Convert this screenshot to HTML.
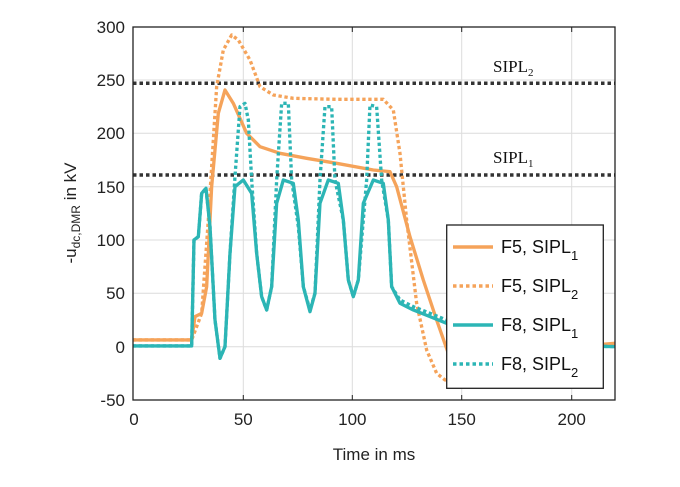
<!DOCTYPE html>
<html><head><meta charset="utf-8"><style>
body{margin:0;background:#fff;}
svg{display:block;font-family:"Liberation Sans",sans-serif;}
</style></head><body>
<svg width="680" height="487" viewBox="0 0 680 487">
<rect width="680" height="487" fill="#fff"/>
<defs><clipPath id="c"><rect x="133" y="27" width="482" height="373"/></clipPath></defs>
<!-- grid -->
<g stroke="#dcdcdc" stroke-width="1">
<line x1="243.3" y1="27" x2="243.3" y2="400"/>
<line x1="352.3" y1="27" x2="352.3" y2="400"/>
<line x1="461.7" y1="27" x2="461.7" y2="400"/>
<line x1="571.7" y1="27" x2="571.7" y2="400"/>
<line x1="133" y1="80" x2="615" y2="80"/>
<line x1="133" y1="133.3" x2="615" y2="133.3"/>
<line x1="133" y1="186.7" x2="615" y2="186.7"/>
<line x1="133" y1="240" x2="615" y2="240"/>
<line x1="133" y1="293.3" x2="615" y2="293.3"/>
<line x1="133" y1="346.7" x2="615" y2="346.7"/>
</g>
<!-- SIPL lines -->
<g stroke="#333" stroke-width="3.5" stroke-dasharray="3.5,3">
<line x1="133" y1="83.3" x2="615" y2="83.3"/>
<line x1="133" y1="175" x2="615" y2="175"/>
</g>
<text x="493" y="72" font-family="Liberation Serif,serif" font-size="17" fill="#111">SIPL<tspan font-size="11" dy="4">2</tspan></text>
<text x="493" y="163" font-family="Liberation Serif,serif" font-size="17" fill="#111">SIPL<tspan font-size="11" dy="4">1</tspan></text>
<g clip-path="url(#c)">
<g fill="none" stroke-linejoin="round" transform="translate(120,20) scale(0.3333)">
<path stroke="#f5a35a" stroke-width="10" stroke-dasharray="10,8" d="M38,960 L215,960 L245,880 L265,600 L290,200 L310,90 L335,45 L355,60 L390,120 L420,200 L460,225 L520,235 L650,238 L790,238 L820,270 L840,400 L860,600 L890,850 L920,990 L950,1060 L975,1080 L1010,1075 L1060,1040 L1200,990 L1485,975"/>
<path stroke="#f5a35a" stroke-width="10" d="M38,960 L215,960 L225,890 L245,880 L260,800 L275,500 L295,280 L315,210 L340,250 L380,340 L420,380 L480,400 L560,415 L650,430 L760,450 L810,455 L830,500 L870,650 L910,780 L950,900 L985,1000 L1020,1050 L1100,1020 L1300,985 L1485,970"/>
<path stroke="#2cb5b5" stroke-width="10" stroke-dasharray="10,8" d="M38,978 L215,978 L222,660 L235,650 L245,520 L258,505 L270,620 L285,900 L300,1015 L315,980 L330,700 L345,470 L360,260 L375,250 L385,300 L395,480 L410,700 L425,830 L440,870 L455,800 L470,480 L485,250 L505,250 L515,480 L535,620 L550,800 L570,870 L585,820 L600,480 L615,260 L635,260 L645,480 L670,600 L685,780 L700,830 L715,780 L740,480 L750,255 L770,260 L785,480 L805,600 L815,800 L840,840 L880,860 L930,880 L980,900 L1100,940 L1300,975 L1485,980"/>
<path stroke="#2cb5b5" stroke-width="10" d="M38,978 L215,978 L222,660 L235,650 L245,520 L258,505 L270,620 L285,900 L300,1015 L315,980 L330,700 L345,500 L370,480 L395,520 L410,700 L425,830 L440,870 L455,800 L470,550 L490,480 L520,490 L535,600 L550,800 L570,875 L585,820 L600,550 L625,480 L655,490 L670,600 L685,780 L700,830 L715,780 L730,550 L760,480 L790,490 L805,600 L815,800 L840,850 L880,870 L930,890 L980,910 L1100,950 L1300,978 L1485,980"/>
</g>
</g>
<!-- axes box -->
<rect x="133" y="27" width="482" height="373" fill="none" stroke="#222" stroke-width="1.3"/>
<g stroke="#222" stroke-width="1">
<line x1="243.3" y1="400" x2="243.3" y2="395"/><line x1="352.3" y1="400" x2="352.3" y2="395"/><line x1="461.7" y1="400" x2="461.7" y2="395"/><line x1="571.7" y1="400" x2="571.7" y2="395"/>
<line x1="243.3" y1="27" x2="243.3" y2="32"/><line x1="352.3" y1="27" x2="352.3" y2="32"/><line x1="461.7" y1="27" x2="461.7" y2="32"/><line x1="571.7" y1="27" x2="571.7" y2="32"/>
</g>
<g font-size="17" fill="#222" text-anchor="end">
<text x="125" y="33">300</text><text x="125" y="86">250</text><text x="125" y="139">200</text><text x="125" y="193">150</text><text x="125" y="246">100</text><text x="125" y="299">50</text><text x="125" y="353">0</text><text x="125" y="406">-50</text>
</g>
<g font-size="17" fill="#222" text-anchor="middle">
<text x="134" y="425">0</text><text x="243.3" y="425">50</text><text x="352.3" y="425">100</text><text x="461.7" y="425">150</text><text x="571.7" y="425">200</text>
<text x="374" y="460">Time in ms</text>
</g>
<text transform="translate(76,213) rotate(-90)" font-size="17" fill="#222" text-anchor="middle">-u<tspan font-size="12" dy="4">dc,DMR</tspan><tspan dy="-4"> in kV</tspan></text>
<!-- legend -->
<rect x="446.7" y="225" width="156.6" height="163.3" fill="#fff" stroke="#222" stroke-width="1.3"/>
<g stroke-width="3.5">
<line x1="453" y1="247" x2="493" y2="247" stroke="#f5a35a"/>
<line x1="453" y1="286" x2="493" y2="286" stroke="#f5a35a" stroke-dasharray="3.5,3"/>
<line x1="453" y1="325" x2="493" y2="325" stroke="#2cb5b5"/>
<line x1="453" y1="364" x2="493" y2="364" stroke="#2cb5b5" stroke-dasharray="3.5,3"/>
</g>
<g font-size="18" fill="#111">
<text x="501" y="253">F5, SIPL<tspan font-size="13" dy="7">1</tspan></text>
<text x="501" y="292">F5, SIPL<tspan font-size="13" dy="7">2</tspan></text>
<text x="501" y="331">F8, SIPL<tspan font-size="13" dy="7">1</tspan></text>
<text x="501" y="370">F8, SIPL<tspan font-size="13" dy="7">2</tspan></text>
</g>
</svg>
</body></html>
